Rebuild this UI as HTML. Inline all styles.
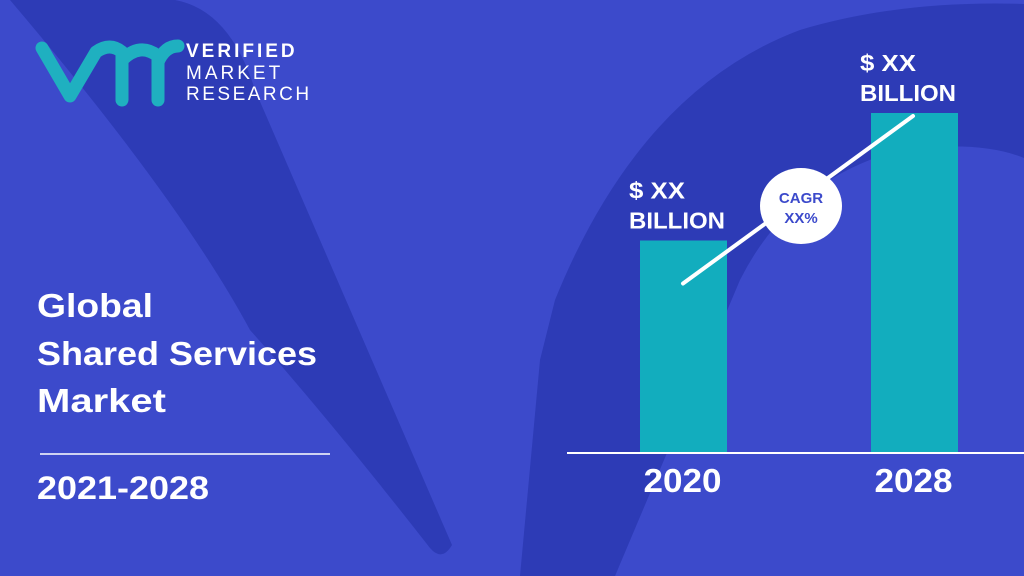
<!DOCTYPE html>
<html><head><meta charset="utf-8"><style>
html,body{margin:0;padding:0;width:1024px;height:576px;overflow:hidden;background:#3c4acb}
svg{display:block}
text{font-family:"Liberation Sans",sans-serif}
</style></head><body>
<svg width="1024" height="576" viewBox="0 0 1024 576">
<rect width="1024" height="576" fill="#3c4acb"/>
<path d="M10 0 L175 0 Q230 10 255 90 L452 545 Q442 562 430 548 Q330 420 250 330 Q180 200 10 0 Z" fill="#2d3bb6"/>
<path d="M555 300 Q640 90 800 30 Q900 0 1024 4 L1024 158 Q980 140 900 150 Q790 180 740 280 L615 576 L520 576 L540 360 Z" fill="#2d3bb6"/>
<g>
<path d="M42 48 L70 96 L96 52 Q110 42 122 52 L122 100 M122 60 Q140 42 158 56 L158 100 M158 62 Q165 46 178 46" fill="none" stroke="#1fb0c0" stroke-width="13" stroke-linecap="round" stroke-linejoin="round"/>
<text x="186" y="57" fill="#fff" font-size="19" font-weight="bold" letter-spacing="3">VERIFIED</text>
<text x="186" y="79" fill="#fff" font-size="19" letter-spacing="3">MARKET</text>
<text x="186" y="100" fill="#fff" font-size="19" letter-spacing="2.5">RESEARCH</text>
</g>
<g fill="#fff" font-weight="bold" font-size="33">
<text x="37" y="317" textLength="116" lengthAdjust="spacingAndGlyphs">Global</text>
<text x="37" y="365" textLength="280" lengthAdjust="spacingAndGlyphs">Shared Services</text>
<text x="37" y="412" textLength="129" lengthAdjust="spacingAndGlyphs">Market</text>
</g>
<line x1="40" y1="454" x2="330" y2="454" stroke="#fff" stroke-width="1.5"/>
<text x="37" y="499" fill="#fff" font-weight="bold" font-size="32" textLength="172" lengthAdjust="spacingAndGlyphs">2021-2028</text>
<g id="chart"></g>
</svg>
<script>
const categories=["2020","2028"];
const values=[50,80];
const valueLabels=["$ XX","$ XX"];
const cagrLabel=["CAGR","XX%"];
const NS="http://www.w3.org/2000/svg";
const g=document.getElementById('chart');
const baseY=453, topY=113, maxV=80;
function yScale(v){return baseY-(v/maxV)*(baseY-topY);}
function xScale(i){return 640+i*231;}
const bw=87;
function mk(t,a){const e=document.createElementNS(NS,t);for(const k in a)e.setAttribute(k,a[k]);g.appendChild(e);return e;}
categories.forEach((c,i)=>{
const x=xScale(i),y=yScale(values[i]);
const r=mk('rect',{x:x,y:y,width:bw,height:baseY-y,fill:'#12adbe'});


const t1=mk('text',{x:x-11,y:y-42,fill:'#fff','font-size':23,'font-weight':'bold',textLength:56,lengthAdjust:'spacingAndGlyphs'});t1.textContent=valueLabels[i];


const t2=mk('text',{x:x-11,y:y-12,fill:'#fff','font-size':23,'font-weight':'bold',textLength:96,lengthAdjust:'spacingAndGlyphs'});t2.textContent='BILLION';


const t3=mk('text',{x:x+bw/2-1,y:492,fill:'#fff','font-size':33,'font-weight':'bold','text-anchor':'middle',textLength:78,lengthAdjust:'spacingAndGlyphs'});t3.textContent=c;


});
const ax=mk('line',{x1:567,y1:baseY,x2:1024,y2:baseY,stroke:'#fff','stroke-width':2});


const y0=yScale(values[0]),y1=yScale(values[1]);
const tl=mk('line',{x1:xScale(0)+43,y1:y0+43,x2:xScale(1)+42,y2:y1+3,stroke:'#fff','stroke-width':4,'stroke-linecap':'round'});


const cx=801,cy=206;
const c=mk('ellipse',{cx:cx,cy:cy,rx:41,ry:38,fill:'#fff'});


cagrLabel.forEach((s,i)=>{const t=mk('text',{x:cx,y:cy-3+i*20,fill:'#3c4acb','font-size':15,'font-weight':'bold','text-anchor':'middle'});t.textContent=s;

});
</script>
</body></html>
